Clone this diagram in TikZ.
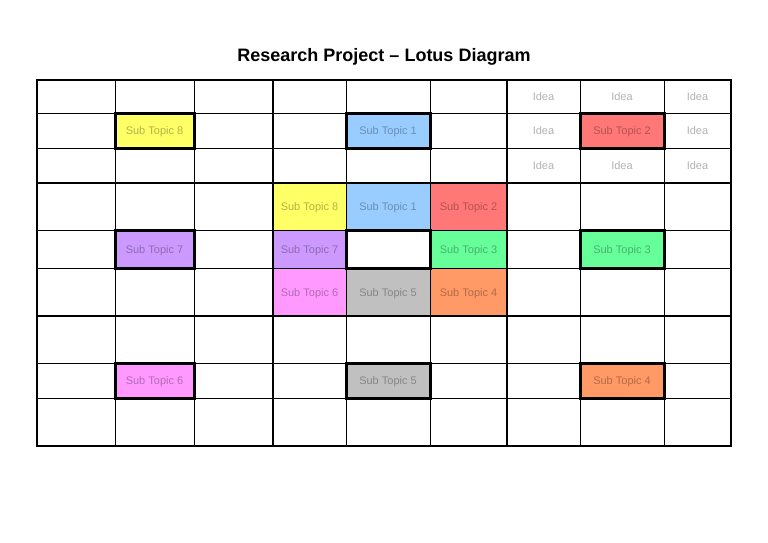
\documentclass[tikz,border=0pt]{standalone}
\usepackage{fontspec}
\setmainfont{Liberation Sans}

\definecolor{stYellow}{HTML}{FFFF66}
\definecolor{stBlue}{HTML}{99CCFF}
\definecolor{stRed}{HTML}{FF7777}
\definecolor{stGreen}{HTML}{66FF99}
\definecolor{stPurple}{HTML}{CC99FF}
\definecolor{stPink}{HTML}{FF99FF}
\definecolor{stGrey}{HTML}{C0C0C0}
\definecolor{stOrange}{HTML}{FF9966}

\tikzset{
  gridline/.style = {line width = 1pt},
  blockline/.style = {line width = 2.2pt},
  cellbox/.style = {draw = black, line width = 1pt, inner sep = 0pt, text height = 8pt, text depth = 0pt,
                    font = \fontsize{11}{13}\selectfont, text = black, text opacity = 0.3},
  hubbox/.style = {cellbox, line width = 3pt},
  ideabox/.style = {inner sep = 0pt, text height = 8pt, text depth = 0pt,
                    font = \fontsize{11}{13}\selectfont, text = black, text opacity = 0.3}
}

\begin{document}
\begin{tikzpicture}[x = 1pt, y = -1pt]

\useasboundingbox (0,0) rectangle (768,543);

\node[font = \bfseries\fontsize{18}{22}\selectfont] (title) at (384,57) {Research Project -- Lotus Diagram};

% thin lines of the grid
\foreach \x in {115,194,346,430,580,664}
  \draw[gridline] (\x,80) -- (\x,446);
\foreach \y in {113,148,230,268,363,398}
  \draw[gridline] (37,\y) -- (731,\y);

% outer sub topics
\node[hubbox, fill = stYellow, minimum width = 79pt, minimum height = 35pt] (t8out) at (154.5,130.5) {Sub Topic 8};
\node[hubbox, fill = stBlue, minimum width = 84pt, minimum height = 35pt] (t1out) at (388,130.5) {Sub Topic 1};
\node[hubbox, fill = stRed, minimum width = 84pt, minimum height = 35pt] (t2out) at (622,130.5) {Sub Topic 2};
\node[hubbox, fill = stPurple, minimum width = 79pt, minimum height = 38pt] (t7out) at (154.5,249) {Sub Topic 7};
\node[hubbox, fill = stGreen, minimum width = 84pt, minimum height = 38pt] (t3out) at (622,249) {Sub Topic 3};
\node[hubbox, fill = stPink, minimum width = 79pt, minimum height = 35pt] (t6out) at (154.5,380.5) {Sub Topic 6};
\node[hubbox, fill = stGrey, minimum width = 84pt, minimum height = 35pt] (t5out) at (388,380.5) {Sub Topic 5};
\node[hubbox, fill = stOrange, minimum width = 84pt, minimum height = 35pt] (t4out) at (622,380.5) {Sub Topic 4};

% centre block
\node[cellbox, fill = stYellow, minimum width = 73pt, minimum height = 47pt] (t8in) at (309.5,206.5) {Sub Topic 8};
\node[cellbox, fill = stBlue, minimum width = 84pt, minimum height = 47pt] (t1in) at (388,206.5) {Sub Topic 1};
\node[cellbox, fill = stRed, minimum width = 77pt, minimum height = 47pt] (t2in) at (468.5,206.5) {Sub Topic 2};
\node[cellbox, fill = stPurple, minimum width = 73pt, minimum height = 38pt] (t7in) at (309.5,249) {Sub Topic 7};
\node[cellbox, fill = stGreen, minimum width = 77pt, minimum height = 38pt] (t3in) at (468.5,249) {Sub Topic 3};
\node[cellbox, fill = stPink, minimum width = 73pt, minimum height = 48pt] (t6in) at (309.5,292) {Sub Topic 6};
\node[cellbox, fill = stGrey, minimum width = 84pt, minimum height = 48pt] (t5in) at (388,292) {Sub Topic 5};
\node[cellbox, fill = stOrange, minimum width = 77pt, minimum height = 48pt] (t4in) at (468.5,292) {Sub Topic 4};
\node[hubbox, fill = white, minimum width = 84pt, minimum height = 38pt] (hub) at (388,249) {};

% ideas round sub topic 2
\node[ideabox] (idea1) at (543.5,96.5) {Idea};
\node[ideabox] (idea2) at (622,96.5) {Idea};
\node[ideabox] (idea3) at (697.5,96.5) {Idea};
\node[ideabox] (idea4) at (543.5,130.5) {Idea};
\node[ideabox] (idea5) at (697.5,130.5) {Idea};
\node[ideabox] (idea6) at (543.5,165.5) {Idea};
\node[ideabox] (idea7) at (622,165.5) {Idea};
\node[ideabox] (idea8) at (697.5,165.5) {Idea};

% block borders
\draw[blockline] (273,80) -- (273,446);
\draw[blockline] (507,80) -- (507,446);
\draw[blockline] (37,183) -- (731,183);
\draw[blockline] (37,316) -- (731,316);
\draw[blockline] (37,80) rectangle (731,446);

\end{tikzpicture}
\end{document}
